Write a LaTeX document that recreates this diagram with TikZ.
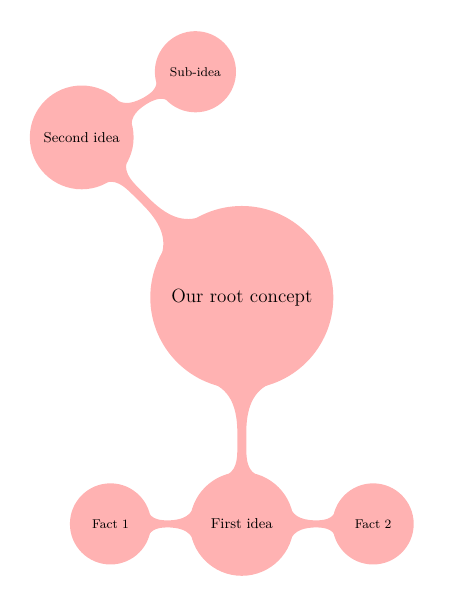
\documentclass[tikz,border=0pt]{standalone}
\usetikzlibrary{mindmap}
\begin{document}
\begin{tikzpicture}[mindmap, every node/.style=concept, concept color=red!30]
\useasboundingbox (-5.34,-6.57) rectangle (4.59,6.57);
\node (root) {Our root concept}
  child[grow=-90] { node (first) {First idea}
    child[grow=180] { node (fact1) {Fact 1} }
    child[grow=0] { node (fact2) {Fact 2} }
  }
  child[grow=135] { node (second) {Second idea}
    child[grow=30] { node (sub) {Sub-idea} }
  };
\end{tikzpicture}
\end{document}
